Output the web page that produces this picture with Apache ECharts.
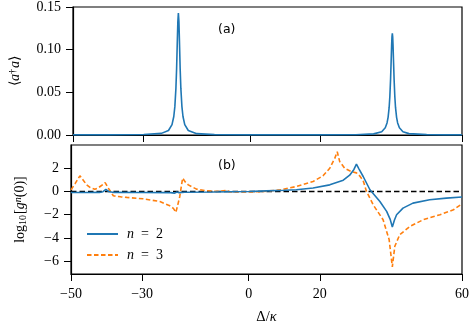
<!DOCTYPE html>
<html>
<head>
<meta charset="utf-8">
<script src="https://cdn.jsdelivr.net/npm/echarts@6/dist/echarts.min.js"></script>
<style>html,body{margin:0;padding:0;background:#fff}#c{width:474px;height:327px}</style>
</head>
<body>
<div id="c"></div>
<script>
// ---- data ----
const xTicks = [-50, -30, 0, 20, 60];
const topYTicks = [0, 0.05, 0.10, 0.15];
const botYTicks = [-6, -4, -2, 0, 2];

// panel (a): <a^dagger a>
const topX = [-50, -40, -30, -25, -23, -22, -21.5, -21.2, -20.9, -20.7, -20.5, -20.35, -20.2, -20.05, -19.9, -19.7, -19.5, -19.2, -18.9, -18.4, -17.4, -15, -10, 0, 10, 20, 30, 35, 37.3, 38.3, 38.8, 39.1, 39.4, 39.6, 39.8, 39.95, 40.1, 40.2, 40.3, 40.4, 40.5, 40.65, 40.8, 41, 41.2, 41.5, 41.8, 42.3, 43.3, 45, 50, 55, 60];
const topY = [0.0001, 0.0001, 0.0005, 0.0019, 0.0053, 0.0122, 0.0217, 0.0332, 0.0546, 0.078, 0.110, 0.133, 0.143, 0.133, 0.110, 0.078, 0.0546, 0.0332, 0.0217, 0.0122, 0.0053, 0.0016, 0.0004, 0.0002, 0.0002, 0.0001, 0.0003, 0.0013, 0.0039, 0.0084, 0.0141, 0.0207, 0.0323, 0.0454, 0.0652, 0.0847, 0.105, 0.115, 0.119, 0.115, 0.105, 0.0847, 0.0652, 0.0454, 0.0323, 0.0207, 0.0141, 0.0084, 0.0039, 0.0016, 0.0004, 0.0002, 0.0001];

// panel (b): log10[g^n(0)]
const n2X = [-50, -45, -42, -41, -40.2, -39.4, -38, -30, -22, -20.8, -20.2, -19.6, -18, -10, -5, 0, 5, 10, 13.4, 18.1, 22.8, 26.6, 28.4, 29.6, 30.3, 31, 32.2, 34.1, 36.9, 38.8, 39.8, 40.4, 41, 41.6, 43.4, 46.2, 50.9, 55.6, 60];
const n2Y = [-0.09, -0.09, -0.08, -0.02, 0.18, 0.0, -0.08, -0.09, -0.1, -0.14, -0.05, -0.1, -0.07, -0.04, -0.02, 0.0, 0.05, 0.1, 0.15, 0.3, 0.57, 0.97, 1.4, 1.9, 2.35, 1.95, 1.29, 0.15, -0.86, -1.71, -2.4, -3.05, -2.45, -2.0, -1.43, -1.0, -0.71, -0.57, -0.48];
const n3X = [-50, -48.8, -47.5, -46.5, -45.6, -44.5, -43.3, -42.5, -41.8, -41, -40.4, -39.5, -38.1, -36, -34.3, -29.7, -25, -22.2, -21.2, -20.5, -20, -19.4, -18.6, -17.8, -17, -14.7, -11.8, -9, -6.2, -5.3, 0, 4.1, 8.8, 13.4, 18.1, 20.9, 22.8, 24.2, 24.9, 25.6, 27, 28.9, 30.3, 31.2, 32.2, 33.1, 35, 37.8, 39.5, 40.4, 41.1, 42.5, 45.4, 49.1, 53.8, 57.6, 60];
const n3Y = [0.14, 0.7, 1.35, 0.95, 0.57, 0.32, 0.2, 0.28, 0.43, 0.6, 0.77, 0.29, -0.37, -0.46, -0.51, -0.63, -0.86, -1.23, -1.45, -1.8, -1.2, -0.43, 1.15, 0.8, 0.57, 0.2, 0.06, 0.0, 0.1, -0.05, -0.05, 0.0, 0.14, 0.43, 0.86, 1.35, 2.0, 2.85, 3.42, 2.57, 2.0, 1.71, 1.6, 1.35, 0.93, 0.03, -1.14, -2.43, -4.14, -6.48, -4.71, -3.71, -3.0, -2.43, -2.0, -1.57, -1.06];
const refX = [-50, 60];
const refY = [0, 0];

const zip = (xs, ys) => xs.map((x, i) => [x, ys[i]]);
const SERIF = 'Liberation Serif';
const FS = 14;
const minus = v => String(v).replace('-', '\u2212');

const chart = echarts.init(document.getElementById('c'), null, {renderer: 'canvas'});

const xAxisBase = {
  type: 'value', min: -50, max: 60,
  axisLine: {show: true, onZero: false, lineStyle: {color: '#000', width: 1.2}},
  axisTick: {show: true, inside: false, length: 7, customValues: xTicks, lineStyle: {color: '#000', width: 1}},
  splitLine: {show: false}
};

const option = {
  animation: false,
  backgroundColor: '#fff',
  grid: [
    {left: 71, right: 12, top: 7, height: 128, show: true, borderColor: '#000', borderWidth: 1.2},
    {left: 71, right: 12, top: 145, height: 129, show: true, borderColor: '#000', borderWidth: 1.2}
  ],
  xAxis: [
    Object.assign({}, xAxisBase, {gridIndex: 0, axisLabel: {show: false}}),
    Object.assign({}, xAxisBase, {
      gridIndex: 1,
      axisLabel: {show: true, customValues: xTicks, margin: 13, color: '#000', fontFamily: SERIF, fontSize: FS, formatter: v => minus(v)},
      name: '{u|\u0394/}{i|\u03ba}', nameLocation: 'middle', nameGap: 36,
      nameTextStyle: {rich: {
        u: {fontFamily: SERIF, fontSize: 14.5, color: '#000'},
        i: {fontFamily: SERIF, fontSize: 14.5, fontStyle: 'italic', color: '#000'}
      }}
    })
  ],
  yAxis: [
    {
      gridIndex: 0, type: 'value', min: 0, max: 0.15, interval: 0.05,
      axisLine: {show: true, onZero: false, lineStyle: {color: '#000', width: 1.2}},
      axisTick: {show: true, inside: false, length: 7, lineStyle: {color: '#000', width: 1}},
      axisLabel: {color: '#000', fontFamily: SERIF, fontSize: FS, margin: 12, formatter: v => v.toFixed(2)},
      splitLine: {show: false},
      name: '\u27e8{i|a}{s|\u2020}{i|a}\u27e9', nameLocation: 'middle', nameGap: 50, nameRotate: 90,
      nameTextStyle: {fontFamily: SERIF, fontSize: 14, color: '#000', rich: {
        i: {fontFamily: SERIF, fontSize: 14, fontStyle: 'italic', color: '#000'},
        s: {fontFamily: SERIF, fontSize: 10, color: '#000', verticalAlign: 'top', padding: [0, 1, 5, 0]}
      }}
    },
    {
      gridIndex: 1, type: 'value', min: -7.1, max: 4.0,
      axisLine: {show: true, onZero: false, lineStyle: {color: '#000', width: 1.2}},
      axisTick: {show: true, inside: false, length: 7, customValues: botYTicks, lineStyle: {color: '#000', width: 1}},
      axisLabel: {color: '#000', fontFamily: SERIF, fontSize: FS, margin: 12, customValues: botYTicks, formatter: v => minus(v)},
      splitLine: {show: false},
      name: 'log{sb|10}[{i|g}{sp|n}(0)]', nameLocation: 'middle', nameGap: 43, nameRotate: 90,
      nameTextStyle: {fontFamily: SERIF, fontSize: 14, color: '#000', rich: {
        i: {fontFamily: SERIF, fontSize: 14, fontStyle: 'italic', color: '#000'},
        sb: {fontFamily: SERIF, fontSize: 10, color: '#000', verticalAlign: 'bottom', padding: [4, 1, 0, 0]},
        sp: {fontFamily: SERIF, fontSize: 10, fontStyle: 'italic', color: '#000', verticalAlign: 'top', padding: [0, 0, 5, 0]}
      }}
    }
  ],
  legend: {
    orient: 'vertical', left: 81, top: 222, itemWidth: 31, itemHeight: 12, itemGap: 7,
    data: ['n2', 'n3'],
    itemStyle: {opacity: 0},
    formatter: name => name === 'n2' ? '{i|n}  =  2' : '{i|n}  =  3',
    textStyle: {fontFamily: SERIF, fontSize: 14, color: '#000', padding: [0, 0, 0, 4], rich: {
      i: {fontFamily: SERIF, fontSize: 14, fontStyle: 'italic', color: '#000'}
    }}
  },
  series: [
    {type: 'line', xAxisIndex: 0, yAxisIndex: 0, data: zip(topX, topY), showSymbol: false, symbol: 'none',
      lineStyle: {color: '#1f77b4', width: 1.6}, itemStyle: {color: '#1f77b4'}},
    {type: 'line', name: 'ref', xAxisIndex: 1, yAxisIndex: 1, data: zip(refX, refY), symbol: 'none',
      lineStyle: {color: '#000', width: 1.4, type: [5.5, 3]}, z: 1},
    {type: 'line', name: 'n2', xAxisIndex: 1, yAxisIndex: 1, data: zip(n2X, n2Y), symbol: 'none',
      lineStyle: {color: '#1f77b4', width: 1.6}, itemStyle: {color: '#1f77b4'}, z: 3},
    {type: 'line', name: 'n3', xAxisIndex: 1, yAxisIndex: 1, data: zip(n3X, n3Y), symbol: 'none',
      lineStyle: {color: '#ff7f0e', width: 1.6, type: [4.5, 2.5]}, itemStyle: {color: '#ff7f0e'}, z: 2}
  ],
  graphic: [
    {type: 'text', left: 218, top: 23, style: {text: '(a)', font: '12.5px "DejaVu Sans"', fill: '#000'}},
    {type: 'text', left: 218, top: 159, style: {text: '(b)', font: '12.5px "DejaVu Sans"', fill: '#000'}}
  ]
};
chart.setOption(option);
</script>
</body>
</html>
